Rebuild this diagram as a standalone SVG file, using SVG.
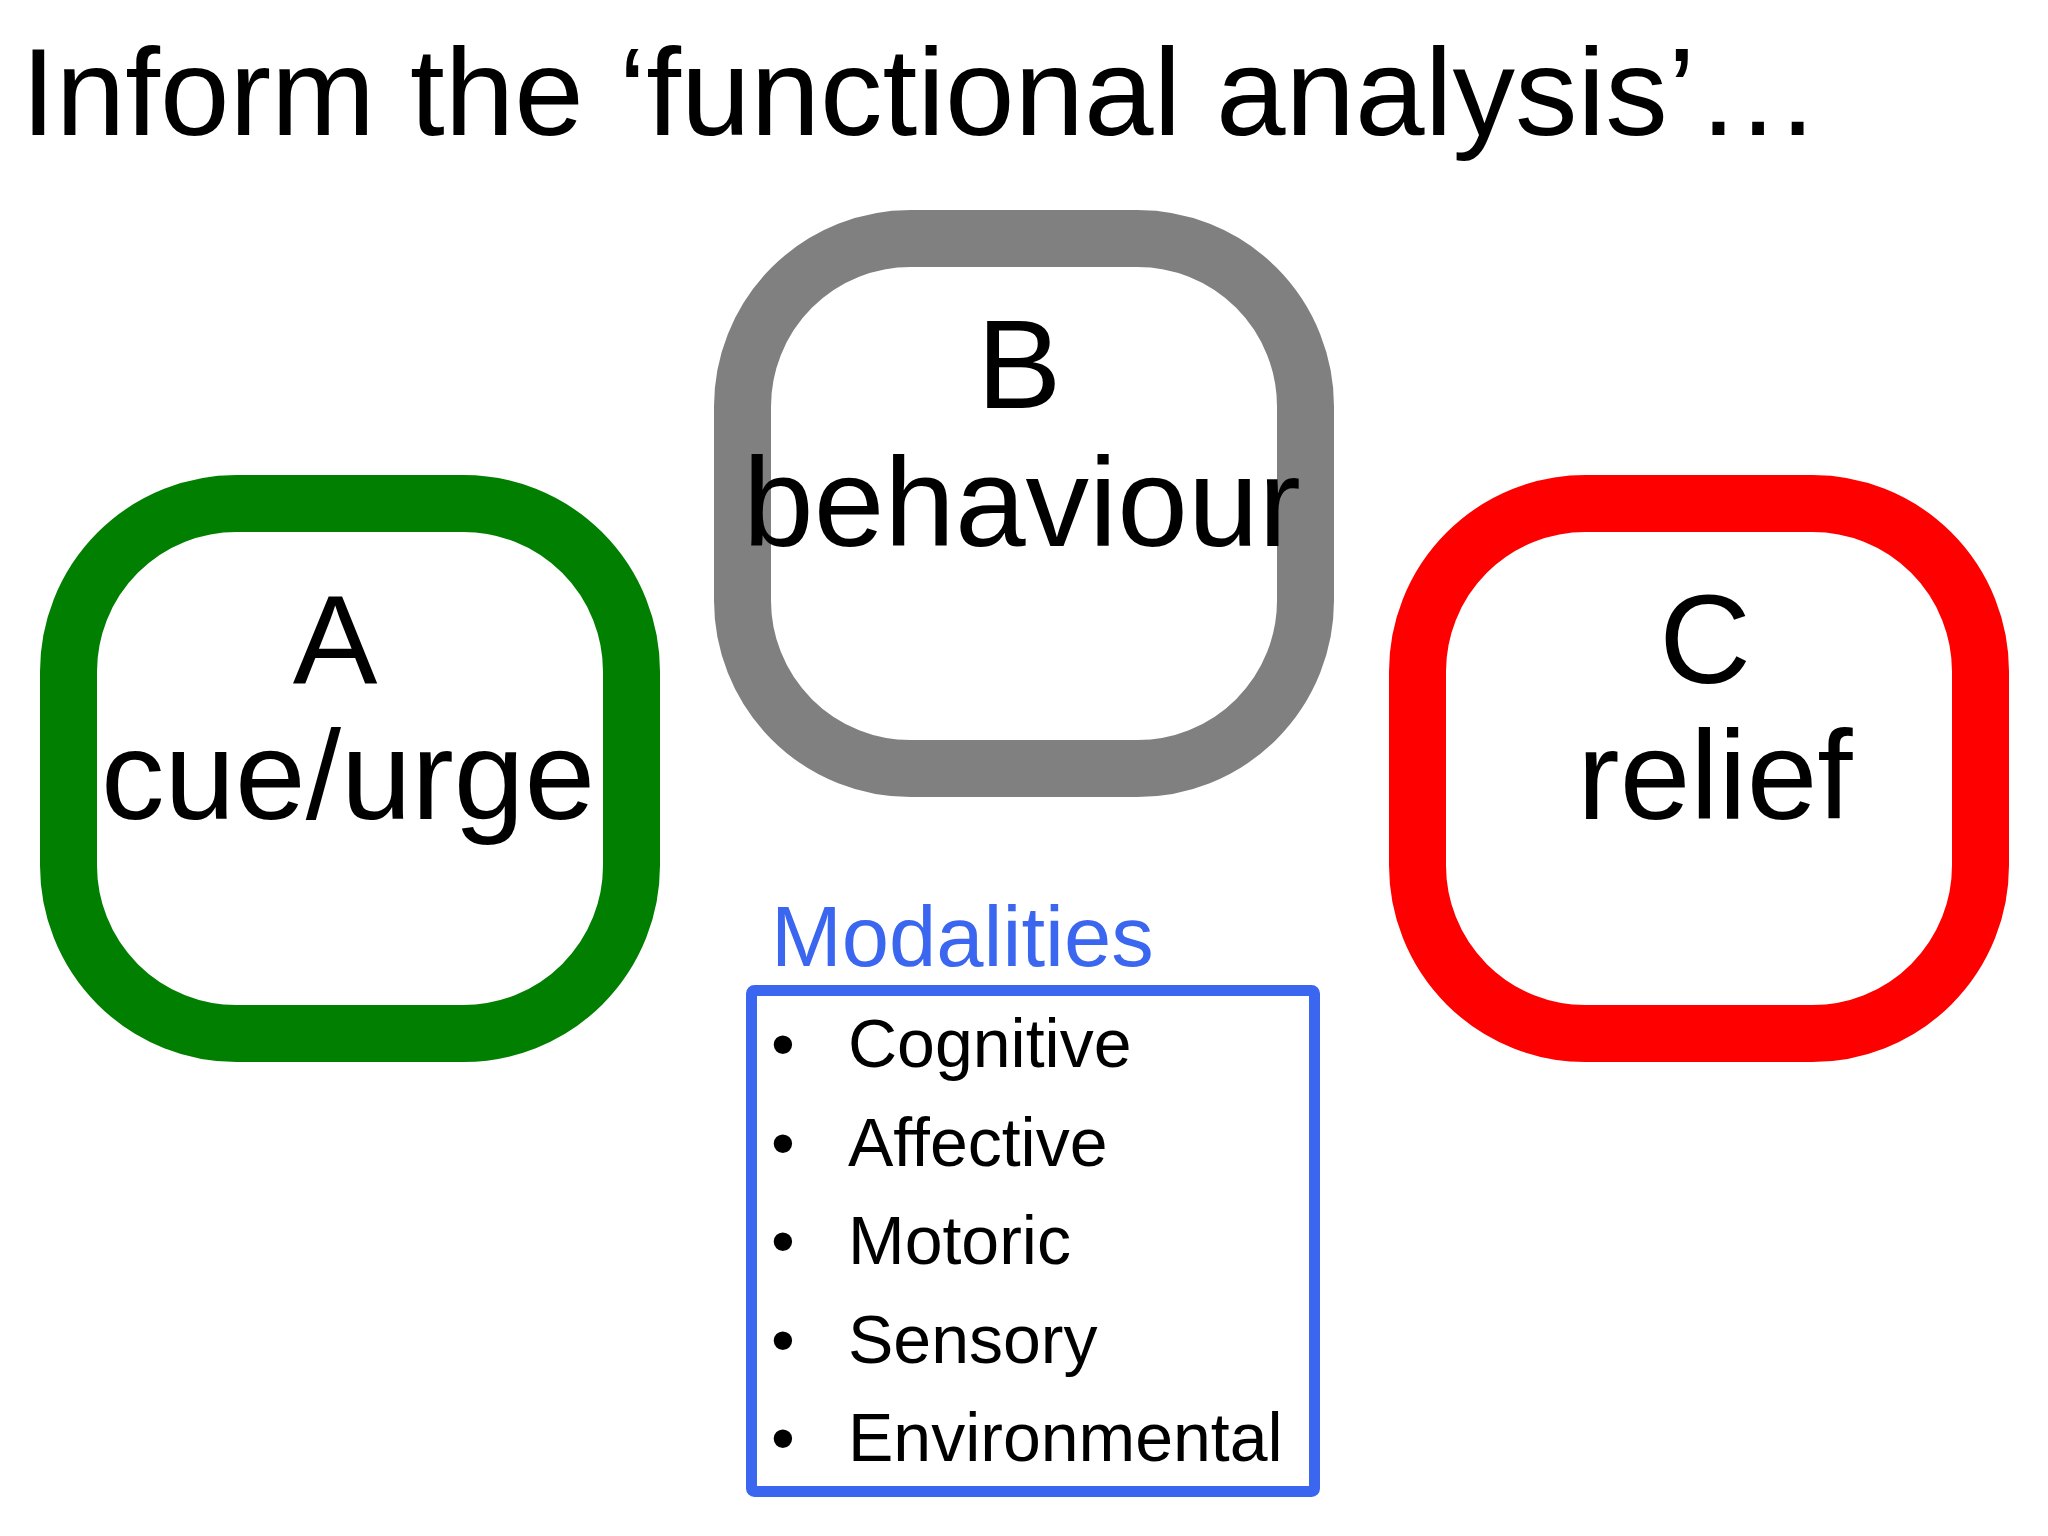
<svg xmlns="http://www.w3.org/2000/svg" width="2048" height="1536" viewBox="0 0 2048 1536">
  <style>
    text { font-family: "Liberation Sans", Arial, sans-serif; fill: #000; }
    .box { fill: #fff; stroke-width: 57; }
    .big { font-size: 127px; text-anchor: middle; }
    .item { font-size: 68px; }
    .bullet { font-size: 68px; text-anchor: middle; }
  </style>
  <rect width="2048" height="1536" fill="#fff"/>
  <g id="title">
    <text x="21" y="135" font-size="125">Inform the ‘functional analysis’…</text>
  </g>
  <g id="connectors"></g>
  <g id="node-a">
    <rect class="box" x="68.5" y="503.5" width="563" height="530" rx="168" ry="168" stroke="#007f00"/>
    <text class="big" x="335" y="683">A</text>
    <text class="big" x="348" y="819">cue/urge</text>
  </g>
  <g id="node-b">
    <rect class="box" x="742.5" y="238.5" width="563" height="530" rx="168" ry="168" stroke="#808080"/>
    <text class="big" x="1019" y="408">B</text>
    <text class="big" x="1022" y="546">behaviour</text>
  </g>
  <g id="node-c">
    <rect class="box" x="1417.5" y="503.5" width="563" height="530" rx="168" ry="168" stroke="#ff0000"/>
    <text class="big" x="1705" y="683">C</text>
    <text class="big" x="1715" y="819">relief</text>
  </g>
  <g id="modalities">
    <text x="771" y="966" font-size="85" style="fill:#3b66ef">Modalities</text>
    <rect x="751.5" y="990.5" width="563" height="501" rx="3" fill="#fff" stroke="#3b66ef" stroke-width="11"/>
    <text class="bullet" x="783" y="1067">•</text>
    <text class="item" x="848" y="1067">Cognitive</text>
    <text class="bullet" x="783" y="1166">•</text>
    <text class="item" x="848" y="1166">Affective</text>
    <text class="bullet" x="783" y="1264">•</text>
    <text class="item" x="848" y="1264">Motoric</text>
    <text class="bullet" x="783" y="1363">•</text>
    <text class="item" x="848" y="1363">Sensory</text>
    <text class="bullet" x="783" y="1461">•</text>
    <text class="item" x="848" y="1461">Environmental</text>
  </g>
</svg>
